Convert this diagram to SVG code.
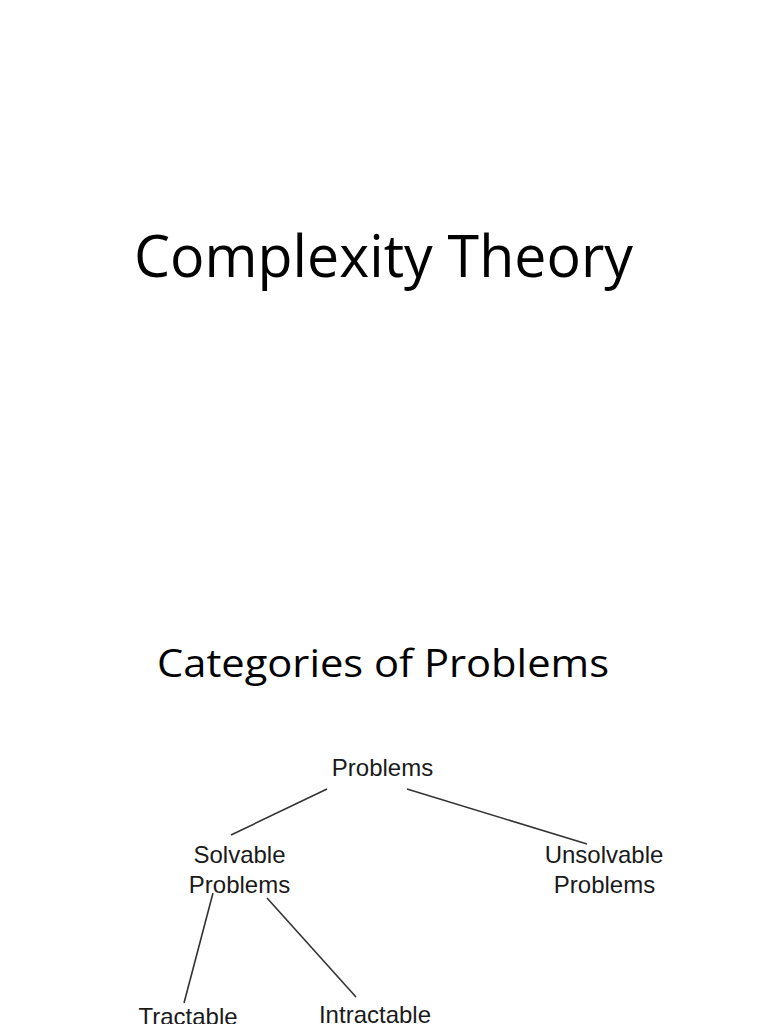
<svg xmlns="http://www.w3.org/2000/svg" width="768" height="1024" viewBox="0 0 768 1024">
<style>
.title{font-family:"Open Sans","Noto Sans",sans-serif;fill:#000}
.node{font-family:"Liberation Sans",Arial,sans-serif;font-size:24px;fill:#1a1a1a;text-anchor:middle}
.edge{stroke:#333;stroke-width:1.6;fill:none}
</style>
<rect width="768" height="1024" fill="#fff"/>
<text class="title" x="134" y="277" font-size="58" textLength="499" lengthAdjust="spacingAndGlyphs">Complexity Theory</text>
<text class="title" x="157" y="677" font-size="39" textLength="452" lengthAdjust="spacingAndGlyphs">Categories of Problems</text>
<g id="connectors">
<line class="edge" x1="327" y1="789" x2="231" y2="835"/>
<line class="edge" x1="407" y1="789" x2="587" y2="844"/>
<line class="edge" x1="213" y1="893" x2="184" y2="1003"/>
<line class="edge" x1="267" y1="898" x2="356" y2="997"/>
</g>
<g id="problems"><text class="node" x="382.5" y="776">Problems</text></g>
<g id="solvable"><text class="node" x="239.5" y="863">Solvable</text><text class="node" x="239.5" y="893">Problems</text></g>
<g id="unsolvable"><text class="node" x="604" y="863">Unsolvable</text><text class="node" x="604.5" y="893">Problems</text></g>
<g id="tractable"><text class="node" x="188" y="1025">Tractable</text></g>
<g id="intractable"><text class="node" x="375" y="1023">Intractable</text></g>
</svg>
